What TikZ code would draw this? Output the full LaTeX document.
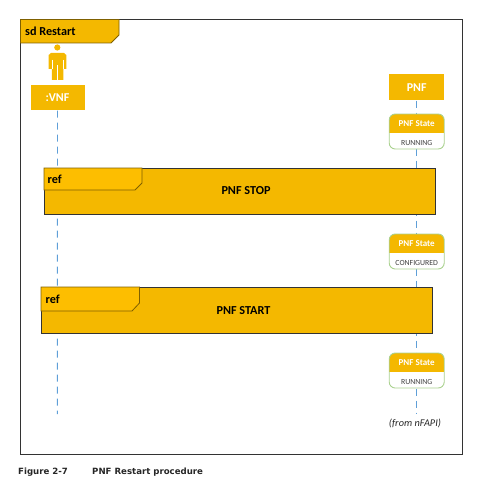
\documentclass[tikz,border=0pt]{standalone}
\usepackage{fontspec}
\setmainfont{Carlito}
\newfontfamily\capfont{DejaVu Sans}
\usetikzlibrary{backgrounds,positioning}
\definecolor{gold}{HTML}{F4B800}
\definecolor{tabgold}{HTML}{FDBE00}
\definecolor{tabline}{HTML}{7F6000}
\definecolor{lifeblue}{HTML}{5F9FD8}
\definecolor{stategreen}{HTML}{A9D18E}
\definecolor{framegray}{HTML}{333333}

\tikzset{
    lifebox/.style={fill=gold, text=white, font=\fontsize{12}{14}\selectfont\bfseries, inner sep=0pt},
    refbox/.style={draw=black!80, fill=gold, line width=0.9pt, minimum width=391pt, minimum height=46pt, inner sep=0pt},
    tabshape/.style={draw=tabline, fill=tabgold, line width=0.8pt},
    tablabel/.style={anchor=west, inner sep=0pt, font=\fontsize{12.2}{14}\selectfont\bfseries},
    reflabel/.style={inner sep=0pt, font=\fontsize{12.2}{14}\selectfont\bfseries},
    statebox/.style={draw=stategreen, line width=0.9pt, rounded corners=6pt, minimum width=55pt, minimum height=35pt, inner sep=0pt,
        path picture={\fill[gold, sharp corners] (path picture bounding box.north west) rectangle ([yshift=16pt]path picture bounding box.south east);}},
    statehead/.style={text=white, inner sep=0pt, font=\fontsize{9}{10}\selectfont\bfseries},
    statevalue/.style={text=black!75, inner sep=0pt, font=\fontsize{7.8}{9}\selectfont},
    lifeline/.style={draw=lifeblue, line width=0.9pt, dash pattern=on 7pt off 5pt},
    caption/.style={anchor=west, inner sep=0pt, text=black!85, font=\capfont\fontsize{8.6}{10}\selectfont\bfseries}
}

\begin{document}
\begin{tikzpicture}[x=1pt, y=-1pt]
\useasboundingbox (0,0) rectangle (494,489);

% Outer frame
\node[draw=framegray, line width=0.9pt, minimum width=441.5pt, minimum height=435pt, inner sep=0pt] (frame) at (241.25,237) {};

% Frame tab
\draw[tabline, fill=gold, line width=0.9pt] (20.5,19.5) -- (119,19.5) -- (119,35) -- (111,43) -- (20.5,43) -- cycle;
\node[tablabel] (sdlabel) at (25,31.5) {sd Restart};

% Actor
\fill[gold] (57.3,47.5) circle (3.1pt);
\fill[gold] (51,53) -- (64,53) -- (66.3,55) -- (66.3,69) -- (63.3,69) -- (63.3,80) -- (51.8,80) -- (51.8,69) -- (48.7,69) -- (48.7,55) -- cycle;
\draw[white, line width=0.5pt] (57.3,65) -- (57.3,80);
\draw[white, line width=0.5pt] (51.8,60) -- (51.8,69) (63.3,60) -- (63.3,69);

% Lifeline heads
\node[lifebox, minimum width=54pt, minimum height=25pt] (vnf) at (57.5,98) {:VNF};
\node[lifebox, minimum width=55.5pt, minimum height=26.5pt] (pnf) at (416.7,87.2) {PNF};
\coordinate (vnfend) at (57.3,414);
\coordinate (pnfend) at (416.7,413);

% States
\foreach \name/\y/\val in {runstate/131.5/RUNNING, confstate/251.5/CONFIGURED, endstate/370.5/RUNNING} {
    \node[statebox, fill=white] (\name) at (416.7,\y) {};
    \node[statehead] (\name head) at ([yshift=-10pt]\name.north) {PNF State};
    \node[statevalue] (\name val) at ([yshift=6.5pt]\name.south) {\val};
}

% Ref boxes
\node[refbox] (refstop) at (239.5,191) {};
\node[refbox] (refstart) at (237,310) {};
\draw[tabshape] (44,168) -- (142,168) -- (142,183) -- (135,190) -- (44,190) -- cycle;
\draw[tabshape] (41,287) -- (139.5,287) -- (139.5,303) -- (132,311) -- (41,311) -- cycle;
\node[tablabel] (stoptab) at (47.5,179) {ref};
\node[tablabel] (starttab) at (45.5,299) {ref};
\node[reflabel] (stoplabel) at (246,191) {PNF STOP};
\node[reflabel] (startlabel) at (243.5,311) {PNF START};

% Lifelines
\begin{scope}[on background layer]
\draw[lifeline] (vnf.south) -- (vnfend);
\draw[lifeline] (pnf.south) -- (pnfend);
\end{scope}

% Notes
\node[inner sep=0pt, text=black!85, font=\fontsize{10.3}{12}\selectfont\itshape] (source) at (415,423) {(from nFAPI)};
\node[caption] (capnum) at (18,472.5) {Figure 2-7};
\node[caption] (captext) at (92,472.5) {PNF Restart procedure};

\end{tikzpicture}
\end{document}
